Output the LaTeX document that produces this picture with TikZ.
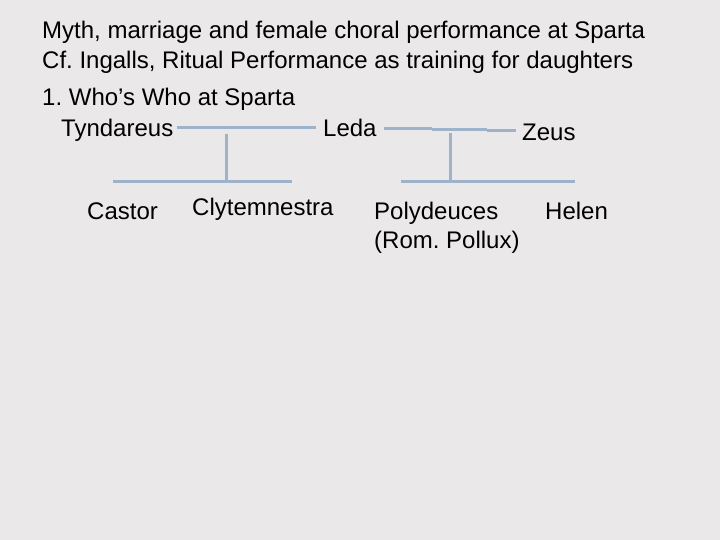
\documentclass[tikz,border=0pt]{standalone}
\usepackage{fontspec}
\setmainfont{Liberation Sans}
\frenchspacing
\definecolor{bg}{HTML}{EAE8E9}
\definecolor{ln}{HTML}{9DB3CA}
\begin{document}
\begin{tikzpicture}[x=1pt,y=-1pt,
  txt/.style={anchor=base west,inner sep=0pt,font=\fontsize{24}{27.6}\selectfont},
  rel/.style={draw=ln,line width=3pt}]
\fill[bg] (0,0) rectangle (720,540);
\useasboundingbox (0,0) rectangle (720,540);
\node[txt] (t1) at (42,39) {Myth, marriage and female choral performance at Sparta};
\node[txt] (t2) at (42,69) {Cf. Ingalls, Ritual Performance as training for daughters};
\node[txt] (t3) at (42,106) {1. Who’s Who at Sparta};
\node[txt] (tyn) at (61,137) {Tyndareus};
\node[txt] (leda) at (323,137) {Leda};
\node[txt] (zeus) at (522,141) {Zeus};
\node[txt] (castor) at (87,220) {Castor};
\node[txt] (cly) at (192,215) {Clytemnestra};
\node[txt] (poly) at (374,220) {Polydeuces};
\node[txt] (pollux) at (374,248) {(Rom. Pollux)};
\node[txt] (helen) at (545,220) {Helen};
% couple 1
\coordinate (a1) at (177,128);
\coordinate (a2) at (316,128);
\coordinate (v1t) at (226,134);
\coordinate (v1b) at (226,182);
\coordinate (h1l) at (113,182);
\coordinate (h1r) at (292,182);
\draw[rel] (a1) -- (a2);
\draw[rel] (v1t) -- (v1b);
\draw[rel] (h1l) -- (h1r);
% couple 2
\coordinate (b1) at (384,129);
\coordinate (b2) at (432,129);
\coordinate (b3) at (432,130);
\coordinate (b4) at (487,130);
\coordinate (b5) at (487,131);
\coordinate (b6) at (516,131);
\coordinate (v2t) at (450,133);
\coordinate (v2b) at (450,182);
\coordinate (h2l) at (401,182);
\coordinate (h2r) at (575,182);
\draw[rel] (b1) -- (b2);
\draw[rel] (b3) -- (b4);
\draw[rel] (b5) -- (b6);
\draw[rel] (v2t) -- (v2b);
\draw[rel] (h2l) -- (h2r);
\end{tikzpicture}
\end{document}
